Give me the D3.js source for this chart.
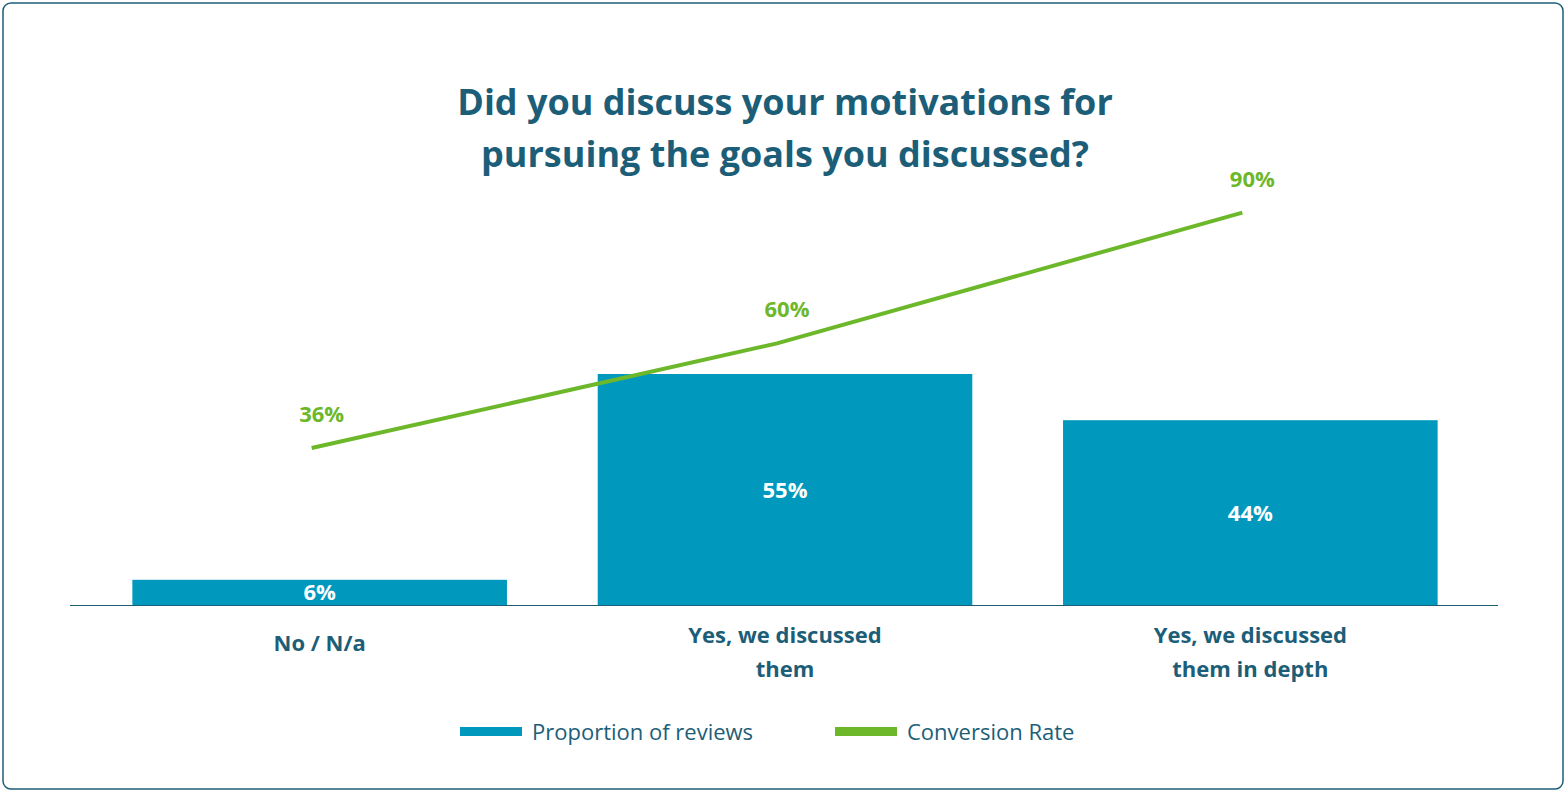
<!DOCTYPE html><html><head><meta charset="utf-8"><script src="https://cdn.jsdelivr.net/npm/d3@7"></script>
<style>body{margin:0;background:#fff}</style></head><body><svg id="c" width="1568" height="795"></svg>
<script>
const categories=[["No / N/a"],["Yes, we discussed","them"],["Yes, we discussed","them in depth"]];
const proportion=[6,55,44];
const conversion=[36,60,90];
const labelsP=["6%","55%","44%"];
const labelsC=["36%","60%","90%"];
const blue="#0099bd",green="#6db82a",teal="#1c5e78",font="'Open Sans',sans-serif";
const svg=d3.select("#c");
svg.append("rect").attr("x",3).attr("y",3).attr("width",1560).attr("height",786).attr("rx",8).attr("fill","#fff").attr("stroke",teal).attr("stroke-width",1.5);
svg.append("text").attr("x",785).attr("text-anchor","middle").attr("font-family",font).attr("font-weight",700).attr("font-size",36).attr("fill",teal)
 .selectAll("tspan").data(["Did you discuss your motivations for","pursuing the goals you discussed?"]).join("tspan").attr("x",785).attr("y",(d,i)=>115+i*52).text(d=>d);
const idx=[0,1,2];
const x=d3.scaleBand().domain(idx).range([87,1483]).paddingInner(0.195).paddingOuter(0.0975);
const yb=d3.scaleLinear().domain([0,100]).range([605,185]);
const yl=d3.scaleLinear().domain([0,100]).range([605,169]);
svg.selectAll(".bar").data(idx).join("rect").attr("x",i=>x(i)).attr("width",x.bandwidth()).attr("y",i=>yb(proportion[i])).attr("height",i=>yb(0)-yb(proportion[i])).attr("fill",blue);
svg.append("line").attr("x1",70).attr("x2",1498).attr("y1",605.5).attr("y2",605.5).attr("stroke",teal).attr("stroke-width",1);
svg.selectAll(".bl").data(idx).join("text").attr("x",i=>x(i)+x.bandwidth()/2).attr("y",i=>(yb(proportion[i])+605)/2+8).attr("text-anchor","middle").attr("font-family",font).attr("font-weight",700).attr("font-size",22).attr("fill","#fff").text(i=>labelsP[i]);
const cx=i=>x(i)+x.bandwidth()/2-8;
svg.append("path").datum(idx).attr("d",d3.line().x(cx).y(i=>yl(conversion[i]))).attr("fill","none").attr("stroke",green).attr("stroke-width",4);
svg.selectAll(".cl").data(idx).join("text").attr("x",i=>cx(i)+10).attr("y",i=>yl(conversion[i])-26).attr("text-anchor","middle").attr("font-family",font).attr("font-weight",700).attr("font-size",22).attr("fill",green).text(i=>labelsC[i]);
svg.selectAll(".cat").data(idx).join("text").attr("text-anchor","middle").attr("font-family",font).attr("font-weight",700).attr("font-size",22).attr("fill",teal)
 .each(function(i){const l=categories[i];const y0=l.length==1?651:643;d3.select(this).selectAll("tspan").data(l).join("tspan").attr("x",x(i)+x.bandwidth()/2).attr("y",(d,k)=>y0+k*34).text(d=>d);});
const leg=[["Proportion of reviews",blue,460],["Conversion Rate",green,835]];
leg.forEach(([t,c,lx])=>{svg.append("rect").attr("x",lx).attr("y",727).attr("width",62).attr("height",9).attr("fill",c);
 svg.append("text").attr("x",lx+72).attr("y",740).attr("font-family",font).attr("font-size",22).attr("fill",teal).text(t);});
</script></body></html>
